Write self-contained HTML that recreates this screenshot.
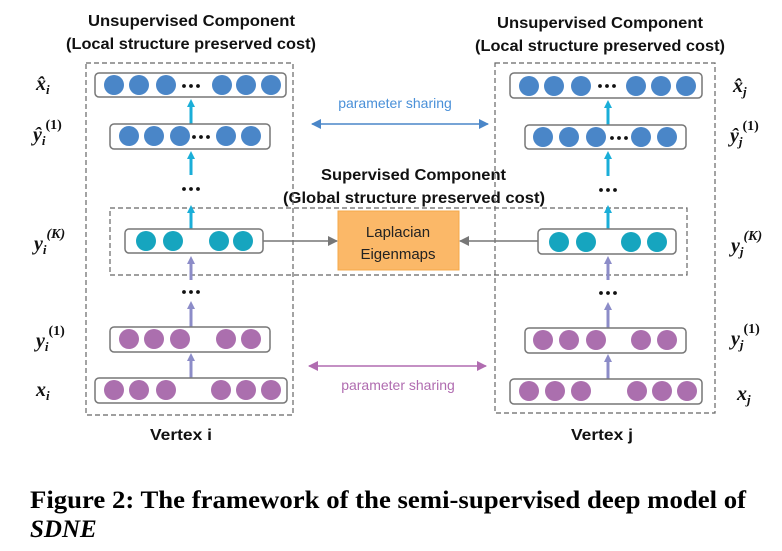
<!DOCTYPE html>
<html><head><meta charset="utf-8"><style>
body{margin:0;background:#fff;}
svg{display:block;}
.t{font-family:"Liberation Sans",sans-serif;font-weight:bold;font-size:16px;fill:#111;}
.m{font-family:"Liberation Serif",serif;font-weight:bold;font-style:italic;fill:#111;}
.c{font-family:"Liberation Serif",serif;font-weight:bold;font-size:25px;fill:#000;}
</style></head><body>
<svg width="782" height="551" viewBox="0 0 782 551" xmlns="http://www.w3.org/2000/svg">
<defs>
<marker id="at" markerWidth="8" markerHeight="8" refX="4" refY="4" orient="auto" markerUnits="userSpaceOnUse"><path d="M0,0 L8,4 L0,8 z" fill="#1aaed8"/></marker>
<marker id="ap" markerWidth="8" markerHeight="8" refX="4" refY="4" orient="auto" markerUnits="userSpaceOnUse"><path d="M0,0 L8,4 L0,8 z" fill="#8c8cc8"/></marker>
<marker id="ag" markerWidth="10" markerHeight="10" refX="9" refY="5" orient="auto" markerUnits="userSpaceOnUse"><path d="M0,0 L10,5 L0,10 z" fill="#777"/></marker>
<marker id="ab" markerWidth="10" markerHeight="10" refX="9" refY="5" orient="auto-start-reverse" markerUnits="userSpaceOnUse"><path d="M0,0 L10,5 L0,10 z" fill="#4a86c8"/></marker>
<marker id="am" markerWidth="10" markerHeight="10" refX="9" refY="5" orient="auto-start-reverse" markerUnits="userSpaceOnUse"><path d="M0,0 L10,5 L0,10 z" fill="#b06cb0"/></marker>
</defs>
<text class="t" x="88" y="26" textLength="207" lengthAdjust="spacingAndGlyphs">Unsupervised Component</text>
<text class="t" x="66" y="49" textLength="250" lengthAdjust="spacingAndGlyphs">(Local structure preserved cost)</text>
<text class="t" x="497" y="28" textLength="206" lengthAdjust="spacingAndGlyphs">Unsupervised Component</text>
<text class="t" x="475" y="51" textLength="250" lengthAdjust="spacingAndGlyphs">(Local structure preserved cost)</text>
<text class="t" x="321" y="180" textLength="185" lengthAdjust="spacingAndGlyphs">Supervised Component</text>
<text class="t" x="283" y="203" textLength="262" lengthAdjust="spacingAndGlyphs">(Global structure preserved cost)</text>
<g fill="none" stroke="#666" stroke-width="1.2" stroke-dasharray="5,3">
<rect x="86" y="63" width="207" height="352"/>
<rect x="495" y="63" width="220" height="350"/>
<rect x="110" y="208" width="577" height="67"/>
</g>
<rect x="338" y="211" width="121" height="59" fill="#fbb868" stroke="#f5a848"/>
<text x="398" y="237" text-anchor="middle" font-family="Liberation Sans,sans-serif" font-size="15" fill="#222">Laplacian</text>
<text x="398" y="259" text-anchor="middle" font-family="Liberation Sans,sans-serif" font-size="15" fill="#222">Eigenmaps</text>
<g stroke="#777" stroke-width="1.5" fill="none">
<line x1="263" y1="241" x2="337" y2="241" marker-end="url(#ag)"/>
<line x1="538" y1="241" x2="460" y2="241" marker-end="url(#ag)"/>
</g>
<line x1="312" y1="124" x2="488" y2="124" stroke="#4a86c8" stroke-width="1.5" marker-start="url(#ab)" marker-end="url(#ab)"/>
<text x="395" y="108" text-anchor="middle" font-family="Liberation Sans,sans-serif" font-size="14" fill="#4a90d8">parameter sharing</text>
<line x1="309" y1="366" x2="486" y2="366" stroke="#b06cb0" stroke-width="1.5" marker-start="url(#am)" marker-end="url(#am)"/>
<text x="398" y="390" text-anchor="middle" font-family="Liberation Sans,sans-serif" font-size="14" fill="#b06cb0">parameter sharing</text>
<g stroke-width="3">
<line x1="191" y1="124" x2="191" y2="103" stroke="#1aaed8" marker-end="url(#at)"/>
<line x1="191" y1="175" x2="191" y2="155" stroke="#1aaed8" marker-end="url(#at)"/>
<line x1="191" y1="229" x2="191" y2="209" stroke="#1aaed8" marker-end="url(#at)"/>
<line x1="191" y1="280" x2="191" y2="260" stroke="#8c8cc8" marker-end="url(#ap)"/>
<line x1="191" y1="327" x2="191" y2="305" stroke="#8c8cc8" marker-end="url(#ap)"/>
<line x1="191" y1="378" x2="191" y2="357" stroke="#8c8cc8" marker-end="url(#ap)"/>
<line x1="608" y1="125" x2="608" y2="104" stroke="#1aaed8" marker-end="url(#at)"/>
<line x1="608" y1="176" x2="608" y2="155" stroke="#1aaed8" marker-end="url(#at)"/>
<line x1="608" y1="229" x2="608" y2="209" stroke="#1aaed8" marker-end="url(#at)"/>
<line x1="608" y1="280" x2="608" y2="260" stroke="#8c8cc8" marker-end="url(#ap)"/>
<line x1="608" y1="328" x2="608" y2="306" stroke="#8c8cc8" marker-end="url(#ap)"/>
<line x1="608" y1="379" x2="608" y2="358" stroke="#8c8cc8" marker-end="url(#ap)"/>
</g>
<g fill="#fff" stroke="#777" stroke-width="1.5">
<rect x="95" y="73" width="191" height="24" rx="4"/>
<rect x="110" y="124" width="160" height="25" rx="4"/>
<rect x="125" y="229" width="138" height="24" rx="4"/>
<rect x="110" y="327" width="160" height="25" rx="4"/>
<rect x="95" y="378" width="192" height="25" rx="4"/>
<rect x="510" y="73" width="192" height="25" rx="4"/>
<rect x="525" y="125" width="161" height="24" rx="4"/>
<rect x="538" y="229" width="138" height="25" rx="4"/>
<rect x="525" y="328" width="161" height="25" rx="4"/>
<rect x="510" y="379" width="192" height="25" rx="4"/>
</g>
<g fill="#4a86c8">
<circle cx="114" cy="85" r="10"/><circle cx="139" cy="85" r="10"/><circle cx="166" cy="85" r="10"/><circle cx="222" cy="85" r="10"/><circle cx="246" cy="85" r="10"/><circle cx="271" cy="85" r="10"/>
<circle cx="129" cy="136" r="10"/><circle cx="154" cy="136" r="10"/><circle cx="180" cy="136" r="10"/><circle cx="226" cy="136" r="10"/><circle cx="251" cy="136" r="10"/>
<circle cx="529" cy="86" r="10"/><circle cx="554" cy="86" r="10"/><circle cx="581" cy="86" r="10"/><circle cx="636" cy="86" r="10"/><circle cx="661" cy="86" r="10"/><circle cx="686" cy="86" r="10"/>
<circle cx="543" cy="137" r="10"/><circle cx="569" cy="137" r="10"/><circle cx="596" cy="137" r="10"/><circle cx="641" cy="137" r="10"/><circle cx="667" cy="137" r="10"/>
</g>
<g fill="#16a5bf">
<circle cx="146" cy="241" r="10"/><circle cx="173" cy="241" r="10"/><circle cx="219" cy="241" r="10"/><circle cx="243" cy="241" r="10"/>
<circle cx="559" cy="242" r="10"/><circle cx="586" cy="242" r="10"/><circle cx="631" cy="242" r="10"/><circle cx="657" cy="242" r="10"/>
</g>
<g fill="#ab6fae">
<circle cx="129" cy="339" r="10"/><circle cx="154" cy="339" r="10"/><circle cx="180" cy="339" r="10"/><circle cx="226" cy="339" r="10"/><circle cx="251" cy="339" r="10"/>
<circle cx="114" cy="390" r="10"/><circle cx="139" cy="390" r="10"/><circle cx="166" cy="390" r="10"/><circle cx="221" cy="390" r="10"/><circle cx="246" cy="390" r="10"/><circle cx="271" cy="390" r="10"/>
<circle cx="543" cy="340" r="10"/><circle cx="569" cy="340" r="10"/><circle cx="596" cy="340" r="10"/><circle cx="641" cy="340" r="10"/><circle cx="667" cy="340" r="10"/>
<circle cx="529" cy="391" r="10"/><circle cx="555" cy="391" r="10"/><circle cx="581" cy="391" r="10"/><circle cx="637" cy="391" r="10"/><circle cx="662" cy="391" r="10"/><circle cx="687" cy="391" r="10"/>
</g>
<g fill="#111">
<circle cx="184" cy="86" r="1.9"/><circle cx="191" cy="86" r="1.9"/><circle cx="198" cy="86" r="1.9"/>
<circle cx="194" cy="137" r="1.9"/><circle cx="201" cy="137" r="1.9"/><circle cx="208" cy="137" r="1.9"/>
<circle cx="184" cy="189" r="1.9"/><circle cx="191" cy="189" r="1.9"/><circle cx="198" cy="189" r="1.9"/>
<circle cx="184" cy="292" r="1.9"/><circle cx="191" cy="292" r="1.9"/><circle cx="198" cy="292" r="1.9"/>
<circle cx="600" cy="86" r="1.9"/><circle cx="607" cy="86" r="1.9"/><circle cx="614" cy="86" r="1.9"/>
<circle cx="612" cy="138" r="1.9"/><circle cx="619" cy="138" r="1.9"/><circle cx="626" cy="138" r="1.9"/>
<circle cx="601" cy="190" r="1.9"/><circle cx="608" cy="190" r="1.9"/><circle cx="615" cy="190" r="1.9"/>
<circle cx="601" cy="293" r="1.9"/><circle cx="608" cy="293" r="1.9"/><circle cx="615" cy="293" r="1.9"/>
</g>
<g class="m">
<text x="36" y="90" font-size="20">x̂<tspan font-size="13" dy="4">i</tspan></text>
<text x="33" y="141" font-size="20">ŷ<tspan font-size="13" dy="4">i</tspan><tspan font-size="14" font-style="normal" dy="-16">(1)</tspan></text>
<text x="34" y="250" font-size="20">y<tspan font-size="13" dy="4">i</tspan><tspan font-size="14" dy="-16">(K)</tspan></text>
<text x="36" y="347" font-size="20">y<tspan font-size="13" dy="4">i</tspan><tspan font-size="14" font-style="normal" dy="-16">(1)</tspan></text>
<text x="36" y="396" font-size="20">x<tspan font-size="13" dy="4">i</tspan></text>
<text x="733" y="92" font-size="20">x̂<tspan font-size="13" dy="4">j</tspan></text>
<text x="730" y="142" font-size="20">ŷ<tspan font-size="13" dy="4">j</tspan><tspan font-size="14" font-style="normal" dy="-16">(1)</tspan></text>
<text x="731" y="252" font-size="20">y<tspan font-size="13" dy="4">j</tspan><tspan font-size="14" dy="-16">(K)</tspan></text>
<text x="731" y="345" font-size="20">y<tspan font-size="13" dy="4">j</tspan><tspan font-size="14" font-style="normal" dy="-16">(1)</tspan></text>
<text x="737" y="400" font-size="20">x<tspan font-size="13" dy="4">j</tspan></text>
</g>
<text class="t" x="150" y="440" textLength="62" lengthAdjust="spacingAndGlyphs">Vertex i</text>
<text class="t" x="571" y="440" textLength="62" lengthAdjust="spacingAndGlyphs">Vertex j</text>
<text class="c" x="30" y="508" textLength="716" lengthAdjust="spacingAndGlyphs">Figure 2:  The framework of the semi-supervised deep model of</text>
<text class="c" x="30" y="537" font-style="italic" font-weight="normal">SDNE</text>
</svg>
</body></html>
